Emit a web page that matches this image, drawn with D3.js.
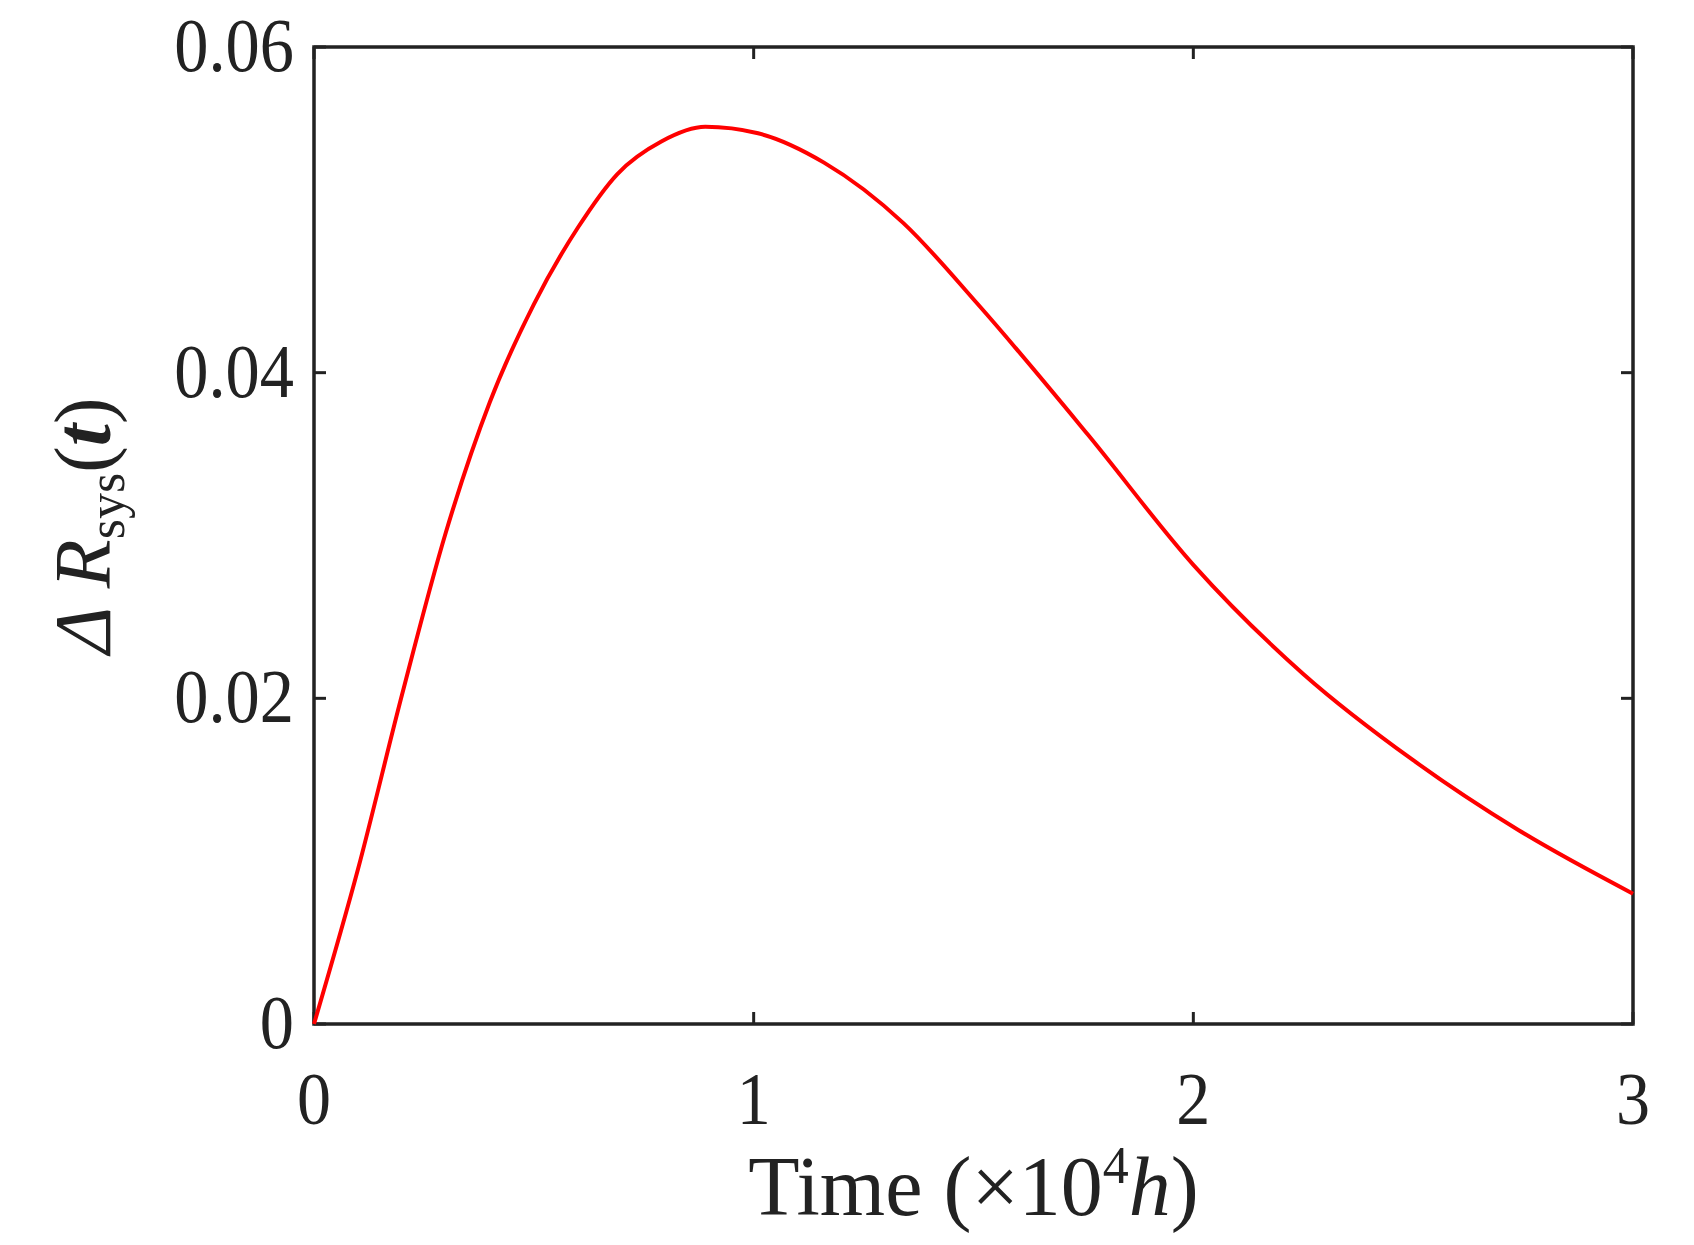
<!DOCTYPE html><html><head><meta charset="utf-8"><script src="https://cdn.jsdelivr.net/npm/d3@7"></script>
<style>body{margin:0;background:#fff}text{font-family:"Liberation Serif",serif;fill:#222}</style></head><body>
<svg id="c" width="1694" height="1245"></svg>
<script>
const timeX=[0,0.1,0.2,0.3,0.4,0.5,0.6,0.69,0.79,0.89,1.01,1.16,1.34,1.51,1.76,2.0,2.25,2.5,2.74,3.0];
const deltaR=[0,0.0095,0.0202,0.0302,0.0382,0.0442,0.0489,0.0522,0.0542,0.0551,0.0547,0.0529,0.0492,0.0442,0.0362,0.0282,0.0215,0.0162,0.0119,0.008];
const xTicks=[0,1,2,3];
const yTicks=[0,0.02,0.04,0.06];
const yTickLabels=["0","0.02","0.04","0.06"];
const svg=d3.select("#c");
const L=314,R=1633,T=47,B=1024;
const x=d3.scaleLinear().domain([0,3]).range([L,R]);
const y=d3.scaleLinear().domain([0,0.06]).range([B,T]);
const col="#222";
svg.append("rect").attr("x",L).attr("y",T).attr("width",R-L).attr("height",B-T).attr("fill","none").attr("stroke",col).attr("stroke-width",3.5);
const tl=12;
xTicks.forEach(v=>{
 svg.append("line").attr("x1",x(v)).attr("x2",x(v)).attr("y1",B).attr("y2",B-tl).attr("stroke",col).attr("stroke-width",3);
 svg.append("line").attr("x1",x(v)).attr("x2",x(v)).attr("y1",T).attr("y2",T+tl).attr("stroke",col).attr("stroke-width",3);
 svg.append("text").attr("x",x(v)).attr("y",B+100).attr("text-anchor","middle").attr("font-size",74).attr("transform",`translate(${x(v)},0) scale(0.92,1) translate(${-x(v)},0)`).text(v);
});
yTicks.forEach((v,i)=>{
 svg.append("line").attr("x1",L).attr("x2",L+tl).attr("y1",y(v)).attr("y2",y(v)).attr("stroke",col).attr("stroke-width",3);
 svg.append("line").attr("x1",R).attr("x2",R-tl).attr("y1",y(v)).attr("y2",y(v)).attr("stroke",col).attr("stroke-width",3);
 const tx=L-20;
 svg.append("text").attr("x",tx).attr("y",y(v)+24).attr("text-anchor","end").attr("font-size",76).attr("transform",`translate(${tx},0) scale(0.9,1) translate(${-tx},0)`).text(yTickLabels[i]);
});
const line=d3.line().x((d,i)=>x(timeX[i])).y(d=>y(d)).curve(d3.curveMonotoneX);
svg.append("path").datum(deltaR).attr("d",line).attr("fill","none").attr("stroke","#f00").attr("stroke-width",4);
const xl=svg.append("text").attr("x",(L+R)/2).attr("y",1215).attr("text-anchor","middle").attr("font-size",84);
xl.append("tspan").text("Time (×10");
xl.append("tspan").attr("font-size",52).attr("dy",-32).text("4");
xl.append("tspan").attr("dy",32).attr("font-style","italic").text("h");
xl.append("tspan").text(")");
const yl=svg.append("text").attr("transform",`translate(110,${(T+B)/2 - 10}) rotate(-90)`).attr("text-anchor","middle").attr("font-size",80);
yl.append("tspan").attr("font-style","italic").text("Δ R");
yl.append("tspan").attr("font-size",52).attr("dy",14).text("sys");
yl.append("tspan").attr("dy",-14).text("(");
yl.append("tspan").attr("font-style","italic").attr("font-weight","bold").text("t");
yl.append("tspan").text(")");
</script></body></html>
